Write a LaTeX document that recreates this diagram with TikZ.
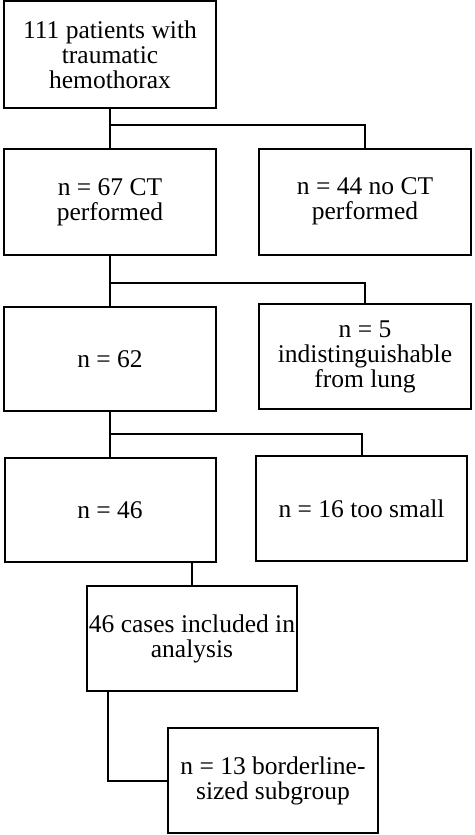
\documentclass[tikz,border=0pt]{standalone}
\usepackage{fontspec}
\setmainfont{Liberation Serif}
\begin{document}
\begin{tikzpicture}[x=1pt,y=-1pt,line join=miter,
  flowbox/.style={draw,line width=2pt,inner sep=0pt,minimum width=212pt,minimum height=106pt,align=center,font=\fontsize{25.5}{25}\selectfont},
  link/.style={line width=2pt}]
\useasboundingbox (0,0) rectangle (474,835);
% boxes
\node[flowbox,minimum height=107pt] (total) at (110,54.5) {111 patients with\\traumatic\\hemothorax};
\node[flowbox] (ct) at (110,202) {n = 67 CT\\performed};
\node[flowbox] (noct) at (365,201.5) {n = 44 no CT\\performed};
\node[flowbox,minimum height=104pt] (seen) at (110,359) {n = 62};
\node[flowbox,minimum height=105pt] (lung) at (365,356.5) {n = 5\\indistinguishable\\from lung};
\node[flowbox,minimum width=211pt,minimum height=104pt] (incl) at (110,510) {n = 46};
\node[flowbox,minimum width=211pt,minimum height=105pt] (small) at (361.5,508.5) {n = 16 too small};
\node[flowbox,minimum width=210pt,minimum height=105pt] (cases) at (192,638.5) {46 cases included in\\analysis};
\node[flowbox,minimum width=210pt,minimum height=105pt] (border) at (273,780.5) {n = 13 borderline-\\sized subgroup};
% connectors
\coordinate (split1) at (110,125);
\coordinate (split2) at (110,283);
\coordinate (split3) at (110,434);
\coordinate (drop) at (108,691);
\draw[link] (total.south) -- (ct.north);
\draw[link] (split1) -| (noct.north);
\draw[link] (ct.south) -- (seen.north);
\draw[link] (split2) -| (lung.north);
\draw[link] (seen.south) -- (incl.north);
\draw[link] (split3) -| (small.north);
\draw[link] (cases.north) -- (cases.north |- incl.south);
\draw[link] (drop) |- (border.west);
\end{tikzpicture}
\end{document}
